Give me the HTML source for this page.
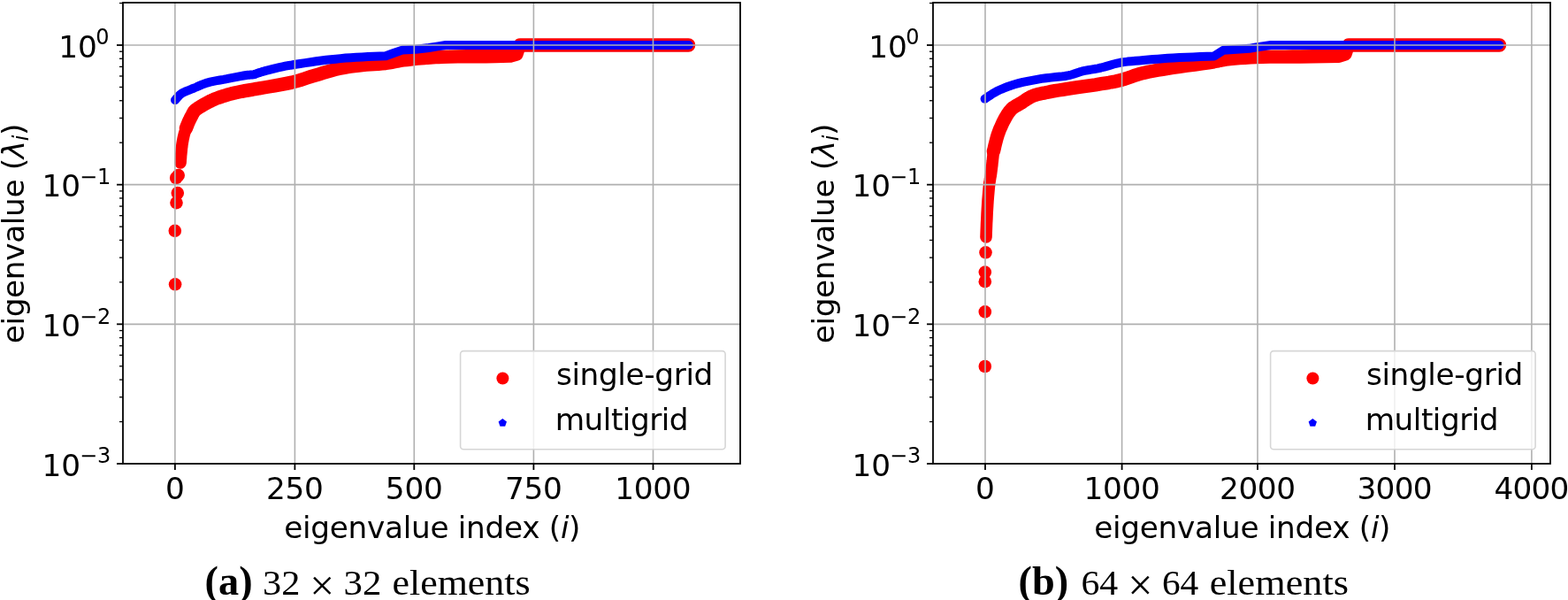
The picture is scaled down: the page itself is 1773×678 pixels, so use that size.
<!DOCTYPE html>
<html><head><meta charset="utf-8"><style>
html,body{margin:0;padding:0;background:#fff;}
svg{display:block;}
.t{font-family:"DejaVu Sans","Liberation Sans",sans-serif;font-size:34.3px;fill:#000;}
.it{font-style:italic;}
.cap{font-family:"Liberation Serif","DejaVu Serif",serif;font-size:40px;fill:#000;}
</style></head><body>
<svg width="1773" height="678" viewBox="0 0 1773 678">
<rect x="0" y="0" width="1773" height="678" fill="#fff"/>
<circle cx="198.1" cy="321.3" r="7.30" fill="#ff0000"/><circle cx="197.8" cy="260.8" r="7.30" fill="#ff0000"/><circle cx="199.5" cy="229.1" r="7.30" fill="#ff0000"/><circle cx="200.8" cy="218.1" r="7.30" fill="#ff0000"/><circle cx="199.2" cy="201.0" r="7.30" fill="#ff0000"/><circle cx="201.7" cy="198.1" r="7.30" fill="#ff0000"/>
<path d="M204.0,184.0 L204.2,182.0 L204.3,180.0 L204.5,178.0 L204.6,176.0 L204.8,174.0 L205.0,172.0 L205.2,170.0 L205.4,167.9 L205.7,165.8 L205.9,163.8 L206.2,161.9 L206.5,160.0 L206.8,158.6 L207.0,157.2 L207.3,155.9 L207.6,154.6 L207.9,153.3 L208.2,152.0 L208.5,150.8 L208.9,149.6 L209.3,148.5 L209.6,147.3 L210.0,146.2 L210.4,145.0" fill="none" stroke="#ff0000" stroke-width="13.6" stroke-linecap="round" stroke-linejoin="round"/>
<path d="M210.4,145.0 L210.8,143.9 L211.2,142.8 L211.7,141.8 L212.1,140.7 L212.5,139.6 L213.0,138.5 L213.5,137.4 L214.0,136.2 L214.6,135.1 L215.1,134.0 L215.7,132.8 L216.3,131.7 L216.9,130.6 L217.5,129.4 L218.1,128.2 L218.7,127.1 L219.4,126.0 L220.3,125.0 L221.5,123.8 L223.0,122.8 L224.6,121.7 L226.2,120.7 L227.8,119.8 L229.3,118.9 L230.5,118.2 L231.6,117.6 L232.6,117.0 L233.7,116.4 L234.8,115.8 L236.0,115.2 L237.3,114.6 L238.6,113.9 L239.9,113.3 L241.2,112.7 L242.7,112.0 L244.3,111.4 L247.0,110.4 L250.0,109.4 L253.2,108.3 L256.5,107.3 L259.8,106.4 L263.1,105.5 L266.4,104.7 L269.9,104.0 L273.4,103.3 L276.8,102.7 L280.1,102.1 L283.0,101.6 L284.8,101.3 L286.4,101.0 L287.9,100.7 L289.5,100.5 L291.2,100.2 L293.2,99.8 L298.1,99.0 L304.0,98.0 L310.6,96.9 L317.4,95.7 L324.0,94.4 L330.0,93.1 L334.7,91.9 L339.2,90.6 L343.5,89.2 L347.8,87.8 L352.1,86.4 L356.5,85.1 L360.9,83.8 L365.3,82.4 L369.8,81.1 L374.2,79.8 L378.6,78.6 L383.1,77.5 L387.5,76.6 L391.9,75.8 L396.4,75.2 L400.8,74.6 L405.3,74.0 L409.7,73.5 L414.2,73.1 L418.7,72.8 L423.2,72.5 L427.7,72.3 L432.0,71.9 L436.2,71.5 L439.7,71.0 L443.0,70.4 L446.2,69.8 L449.4,69.1 L452.7,68.5 L456.1,68.0 L460.0,67.5 L464.0,67.0 L468.0,66.6 L472.1,66.2 L476.1,65.8 L480.0,65.5 L483.3,65.2 L486.4,65.0 L489.4,64.8 L492.6,64.6 L496.1,64.5 L500.0,64.3 L508.1,64.1 L517.6,63.9 L528.0,63.8 L538.8,63.8 L549.6,63.7 L560.0,63.6 L577.0,63.0 L584.0,61.0 L586.0,55.0 L588.0,51.0 L778.6,51.0" fill="none" stroke="#ff0000" stroke-width="15.4" stroke-linecap="round" stroke-linejoin="round"/>
<path d="M198.0,113.1 L199.1,111.9 L200.1,110.7 L201.1,109.5 L202.2,108.3 L203.3,107.2 L204.7,106.1 L206.8,104.8 L209.1,103.7 L211.7,102.6 L214.3,101.6 L216.9,100.5 L219.5,99.5 L221.9,98.5 L224.3,97.4 L226.6,96.4 L229.0,95.4 L231.5,94.5 L234.2,93.6 L237.6,92.7 L241.2,91.9 L245.0,91.2 L248.8,90.5 L252.6,89.9 L256.4,89.2 L260.2,88.4 L264.1,87.7 L268.1,86.9 L271.9,86.1 L275.4,85.5 L278.5,85.0 L280.2,84.8 L281.7,84.7 L283.1,84.6 L284.5,84.5 L285.8,84.4 L287.0,84.2 L287.9,84.0 L288.7,83.7 L289.5,83.4 L290.3,83.1 L291.1,82.8 L292.0,82.5 L293.2,82.1 L294.5,81.7 L295.9,81.3 L297.3,80.8 L298.9,80.4 L300.6,79.9 L303.8,79.1 L307.6,78.1 L311.7,77.1 L315.8,76.2 L319.6,75.4 L322.7,74.7 L324.1,74.4 L325.2,74.2 L326.3,74.1 L327.3,73.9 L328.5,73.7 L330.0,73.5 L334.1,72.8 L339.3,72.0 L345.1,71.1 L351.2,70.2 L357.4,69.3 L363.2,68.5 L368.7,67.8 L374.1,67.2 L379.6,66.7 L385.1,66.1 L390.7,65.6 L396.4,65.2 L402.8,64.8 L409.4,64.4 L416.1,64.1 L422.8,63.8 L429.5,63.5 L436.2,63.2 L445.0,60.0 L454.8,56.6 L470.0,55.8 L485.0,54.0 L495.0,52.4 L504.0,51.0 L778.8,51.0" fill="none" stroke="#0000ff" stroke-width="10.0" stroke-linecap="round" stroke-linejoin="round"/>
<line x1="197.90" y1="3.0" x2="197.90" y2="524.0" stroke="#b0b0b0" stroke-width="1.6"/>
<line x1="333.40" y1="3.0" x2="333.40" y2="524.0" stroke="#b0b0b0" stroke-width="1.6"/>
<line x1="468.30" y1="3.0" x2="468.30" y2="524.0" stroke="#b0b0b0" stroke-width="1.6"/>
<line x1="603.40" y1="3.0" x2="603.40" y2="524.0" stroke="#b0b0b0" stroke-width="1.6"/>
<line x1="738.50" y1="3.0" x2="738.50" y2="524.0" stroke="#b0b0b0" stroke-width="1.6"/>
<line x1="139.0" y1="51.00" x2="837.0" y2="51.00" stroke="#b0b0b0" stroke-width="1.6"/>
<line x1="139.0" y1="208.67" x2="837.0" y2="208.67" stroke="#b0b0b0" stroke-width="1.6"/>
<line x1="139.0" y1="366.33" x2="837.0" y2="366.33" stroke="#b0b0b0" stroke-width="1.6"/>
<rect x="520.6" y="396.6" width="299.5" height="111.1" rx="3.5" ry="3.5" fill="#fff" fill-opacity="0.8" stroke="#d6d6d6" stroke-width="1.6"/>
<circle cx="568.4" cy="427.5" r="7.0" fill="#ff0000"/>
<polygon points="568.30,473.00 572.96,476.39 571.18,481.86 565.42,481.86 563.64,476.39" fill="#0000ff"/>
<text x="628.9" y="434.6" class="t" textLength="177.5">single-grid</text>
<text x="627.7" y="485.7" class="t" textLength="150.9">multigrid</text>
<rect x="139.0" y="3.0" width="698.0" height="521.0" fill="none" stroke="#000" stroke-width="1.8"/>
<line x1="132.0" y1="51.00" x2="139.0" y2="51.00" stroke="#000" stroke-width="1.8"/>
<line x1="135.0" y1="3.54" x2="139.0" y2="3.54" stroke="#000" stroke-width="1.3"/>
<line x1="132.0" y1="208.67" x2="139.0" y2="208.67" stroke="#000" stroke-width="1.8"/>
<line x1="135.0" y1="161.20" x2="139.0" y2="161.20" stroke="#000" stroke-width="1.3"/>
<line x1="135.0" y1="133.44" x2="139.0" y2="133.44" stroke="#000" stroke-width="1.3"/>
<line x1="135.0" y1="113.74" x2="139.0" y2="113.74" stroke="#000" stroke-width="1.3"/>
<line x1="135.0" y1="98.46" x2="139.0" y2="98.46" stroke="#000" stroke-width="1.3"/>
<line x1="135.0" y1="85.98" x2="139.0" y2="85.98" stroke="#000" stroke-width="1.3"/>
<line x1="135.0" y1="75.42" x2="139.0" y2="75.42" stroke="#000" stroke-width="1.3"/>
<line x1="135.0" y1="66.28" x2="139.0" y2="66.28" stroke="#000" stroke-width="1.3"/>
<line x1="135.0" y1="58.21" x2="139.0" y2="58.21" stroke="#000" stroke-width="1.3"/>
<line x1="132.0" y1="366.33" x2="139.0" y2="366.33" stroke="#000" stroke-width="1.8"/>
<line x1="135.0" y1="318.87" x2="139.0" y2="318.87" stroke="#000" stroke-width="1.3"/>
<line x1="135.0" y1="291.11" x2="139.0" y2="291.11" stroke="#000" stroke-width="1.3"/>
<line x1="135.0" y1="271.41" x2="139.0" y2="271.41" stroke="#000" stroke-width="1.3"/>
<line x1="135.0" y1="256.13" x2="139.0" y2="256.13" stroke="#000" stroke-width="1.3"/>
<line x1="135.0" y1="243.64" x2="139.0" y2="243.64" stroke="#000" stroke-width="1.3"/>
<line x1="135.0" y1="233.09" x2="139.0" y2="233.09" stroke="#000" stroke-width="1.3"/>
<line x1="135.0" y1="223.95" x2="139.0" y2="223.95" stroke="#000" stroke-width="1.3"/>
<line x1="135.0" y1="215.88" x2="139.0" y2="215.88" stroke="#000" stroke-width="1.3"/>
<line x1="132.0" y1="524.00" x2="139.0" y2="524.00" stroke="#000" stroke-width="1.8"/>
<line x1="135.0" y1="476.54" x2="139.0" y2="476.54" stroke="#000" stroke-width="1.3"/>
<line x1="135.0" y1="448.77" x2="139.0" y2="448.77" stroke="#000" stroke-width="1.3"/>
<line x1="135.0" y1="429.08" x2="139.0" y2="429.08" stroke="#000" stroke-width="1.3"/>
<line x1="135.0" y1="413.80" x2="139.0" y2="413.80" stroke="#000" stroke-width="1.3"/>
<line x1="135.0" y1="401.31" x2="139.0" y2="401.31" stroke="#000" stroke-width="1.3"/>
<line x1="135.0" y1="390.76" x2="139.0" y2="390.76" stroke="#000" stroke-width="1.3"/>
<line x1="135.0" y1="381.61" x2="139.0" y2="381.61" stroke="#000" stroke-width="1.3"/>
<line x1="135.0" y1="373.55" x2="139.0" y2="373.55" stroke="#000" stroke-width="1.3"/>
<line x1="197.90" y1="524.0" x2="197.90" y2="531.0" stroke="#000" stroke-width="1.8"/>
<text x="197.90" y="563.8" text-anchor="middle" class="t">0</text>
<line x1="333.40" y1="524.0" x2="333.40" y2="531.0" stroke="#000" stroke-width="1.8"/>
<text x="333.40" y="563.8" text-anchor="middle" class="t" textLength="64.97">250</text>
<line x1="468.30" y1="524.0" x2="468.30" y2="531.0" stroke="#000" stroke-width="1.8"/>
<text x="468.30" y="563.8" text-anchor="middle" class="t" textLength="64.97">500</text>
<line x1="603.40" y1="524.0" x2="603.40" y2="531.0" stroke="#000" stroke-width="1.8"/>
<text x="603.40" y="563.8" text-anchor="middle" class="t" textLength="64.97">750</text>
<line x1="738.50" y1="524.0" x2="738.50" y2="531.0" stroke="#000" stroke-width="1.8"/>
<text x="738.50" y="563.8" text-anchor="middle" class="t" textLength="86.39">1000</text>
<text x="66.2" y="64.7" class="t">10</text><text x="108.2" y="50.2" class="t" style="font-size:24.01px">0</text>
<text x="47.5" y="222.4" class="t">10</text><text x="89.9" y="207.9" class="t" style="font-size:24.01px">−1</text>
<text x="47.5" y="380.0" class="t">10</text><text x="89.9" y="365.5" class="t" style="font-size:24.01px">−2</text>
<text x="47.5" y="537.7" class="t">10</text><text x="89.9" y="523.2" class="t" style="font-size:24.01px">−3</text>
<text x="321.3" y="607.6" class="t" textLength="335.2">eigenvalue index (<tspan class="it">i</tspan>)</text>
<text transform="translate(26.7,388.3) rotate(-90)" x="0" y="0" class="t" textLength="248.8">eigenvalue (<tspan class="it">λ</tspan><tspan class="it" font-size="24.01" dy="5">i</tspan><tspan dy="-5">)</tspan></text>
<circle cx="1114.5" cy="285.3" r="7.30" fill="#ff0000"/><circle cx="1113.8" cy="307.6" r="7.30" fill="#ff0000"/><circle cx="1113.8" cy="318.2" r="7.30" fill="#ff0000"/><circle cx="1113.8" cy="352.4" r="7.30" fill="#ff0000"/><circle cx="1113.8" cy="414.0" r="7.30" fill="#ff0000"/>
<path d="M1115.0,268.0 L1115.2,262.7 L1115.4,257.4 L1115.6,252.1 L1115.9,246.8 L1116.1,241.5 L1116.4,236.4 L1116.7,231.6 L1117.0,226.6 L1117.4,221.8 L1117.8,217.1 L1118.2,212.7 L1118.6,208.7 L1118.9,206.3 L1119.3,204.1 L1119.6,202.1 L1119.9,200.1 L1120.3,198.1 L1120.6,196.0 L1120.9,193.7 L1121.2,191.3 L1121.5,188.9 L1121.8,186.6 L1122.0,184.2 L1122.3,182.0 L1122.5,180.1 L1122.7,178.2 L1122.9,176.4 L1123.0,174.6 L1123.2,172.8 L1123.4,171.0" fill="none" stroke="#ff0000" stroke-width="13.6" stroke-linecap="round" stroke-linejoin="round"/>
<path d="M1123.4,171.0 L1124.2,167.9 L1124.9,164.7 L1125.7,161.5 L1126.5,158.4 L1127.3,155.3 L1128.3,152.2 L1129.4,149.2 L1130.5,146.2 L1131.8,143.3 L1133.1,140.4 L1134.4,137.6 L1135.8,135.0 L1137.0,132.8 L1138.2,130.7 L1139.4,128.7 L1140.8,126.8 L1142.2,125.0 L1143.7,123.3 L1145.3,121.9 L1147.0,120.7 L1148.8,119.6 L1150.7,118.6 L1152.6,117.5 L1154.5,116.4 L1156.7,115.0 L1158.9,113.5 L1161.1,112.1 L1163.5,110.6 L1165.8,109.3 L1168.3,108.2 L1170.9,107.3 L1173.5,106.5 L1176.2,105.9 L1179.0,105.3 L1181.9,104.8 L1184.9,104.2 L1188.8,103.4 L1192.8,102.7 L1197.0,102.0 L1201.3,101.3 L1205.8,100.6 L1210.5,99.9 L1216.9,98.9 L1224.0,97.9 L1231.4,96.8 L1238.6,95.8 L1245.3,94.7 L1251.0,93.8 L1254.0,93.3 L1256.6,92.8 L1259.0,92.4 L1261.3,91.9 L1263.8,91.4 L1266.5,90.7 L1270.5,89.6 L1274.7,88.2 L1279.2,86.7 L1283.7,85.1 L1288.4,83.7 L1293.1,82.4 L1298.3,81.2 L1303.7,80.2 L1309.1,79.2 L1314.7,78.3 L1320.4,77.4 L1326.3,76.5 L1333.9,75.3 L1342.2,74.2 L1350.8,73.0 L1359.0,71.8 L1366.5,70.8 L1372.7,69.8 L1375.3,69.3 L1377.5,68.9 L1379.5,68.4 L1381.4,68.0 L1383.5,67.6 L1386.0,67.2 L1390.7,66.6 L1395.9,66.1 L1401.6,65.6 L1407.6,65.2 L1413.8,64.8 L1420.0,64.5 L1427.8,64.2 L1436.0,64.1 L1444.4,64.1 L1453.0,64.1 L1461.6,64.0 L1470.0,64.0 L1514.0,63.3 L1521.0,61.0 L1523.0,55.0 L1525.0,51.0 L1695.5,51.0" fill="none" stroke="#ff0000" stroke-width="15.4" stroke-linecap="round" stroke-linejoin="round"/>
<path d="M1113.6,111.7 L1115.6,110.4 L1117.6,109.0 L1119.6,107.7 L1121.6,106.4 L1123.7,105.1 L1126.0,103.8 L1129.0,102.3 L1132.3,100.8 L1135.7,99.4 L1139.2,98.0 L1142.9,96.7 L1146.7,95.5 L1151.5,94.2 L1156.5,92.9 L1161.7,91.8 L1167.0,90.8 L1172.4,89.8 L1177.6,88.9 L1182.9,88.2 L1188.4,87.6 L1193.8,87.1 L1199.1,86.6 L1204.1,86.0 L1208.6,85.2 L1211.3,84.5 L1213.7,83.8 L1216.0,83.0 L1218.2,82.2 L1220.6,81.4 L1223.1,80.7 L1226.5,79.9 L1230.1,79.3 L1233.8,78.6 L1237.6,78.0 L1241.3,77.3 L1245.0,76.5 L1248.6,75.6 L1252.1,74.6 L1255.6,73.6 L1259.2,72.5 L1262.8,71.6 L1266.5,70.8 L1270.7,70.1 L1275.0,69.6 L1279.4,69.2 L1283.9,68.8 L1288.5,68.5 L1293.1,68.1 L1298.4,67.6 L1303.7,67.1 L1309.1,66.7 L1314.7,66.2 L1320.4,65.8 L1326.3,65.4 L1333.6,65.0 L1341.2,64.7 L1349.0,64.4 L1356.9,64.1 L1364.9,63.8 L1372.7,63.5 L1383.4,56.8 L1412.6,54.8 L1420.0,53.5 L1437.0,51.0 L1695.4,51.0" fill="none" stroke="#0000ff" stroke-width="10.0" stroke-linecap="round" stroke-linejoin="round"/>
<line x1="1114.00" y1="3.0" x2="1114.00" y2="524.0" stroke="#b0b0b0" stroke-width="1.6"/>
<line x1="1268.60" y1="3.0" x2="1268.60" y2="524.0" stroke="#b0b0b0" stroke-width="1.6"/>
<line x1="1422.00" y1="3.0" x2="1422.00" y2="524.0" stroke="#b0b0b0" stroke-width="1.6"/>
<line x1="1577.00" y1="3.0" x2="1577.00" y2="524.0" stroke="#b0b0b0" stroke-width="1.6"/>
<line x1="1731.90" y1="3.0" x2="1731.90" y2="524.0" stroke="#b0b0b0" stroke-width="1.6"/>
<line x1="1055.0" y1="51.00" x2="1753.0" y2="51.00" stroke="#b0b0b0" stroke-width="1.6"/>
<line x1="1055.0" y1="208.67" x2="1753.0" y2="208.67" stroke="#b0b0b0" stroke-width="1.6"/>
<line x1="1055.0" y1="366.33" x2="1753.0" y2="366.33" stroke="#b0b0b0" stroke-width="1.6"/>
<rect x="1436.6" y="396.6" width="299.5" height="111.1" rx="3.5" ry="3.5" fill="#fff" fill-opacity="0.8" stroke="#d6d6d6" stroke-width="1.6"/>
<circle cx="1484.4" cy="427.5" r="7.0" fill="#ff0000"/>
<polygon points="1484.30,473.00 1488.96,476.39 1487.18,481.86 1481.42,481.86 1479.64,476.39" fill="#0000ff"/>
<text x="1544.9" y="434.6" class="t" textLength="177.5">single-grid</text>
<text x="1543.7" y="485.7" class="t" textLength="150.9">multigrid</text>
<rect x="1055.0" y="3.0" width="698.0" height="521.0" fill="none" stroke="#000" stroke-width="1.8"/>
<line x1="1048.0" y1="51.00" x2="1055.0" y2="51.00" stroke="#000" stroke-width="1.8"/>
<line x1="1051.0" y1="3.54" x2="1055.0" y2="3.54" stroke="#000" stroke-width="1.3"/>
<line x1="1048.0" y1="208.67" x2="1055.0" y2="208.67" stroke="#000" stroke-width="1.8"/>
<line x1="1051.0" y1="161.20" x2="1055.0" y2="161.20" stroke="#000" stroke-width="1.3"/>
<line x1="1051.0" y1="133.44" x2="1055.0" y2="133.44" stroke="#000" stroke-width="1.3"/>
<line x1="1051.0" y1="113.74" x2="1055.0" y2="113.74" stroke="#000" stroke-width="1.3"/>
<line x1="1051.0" y1="98.46" x2="1055.0" y2="98.46" stroke="#000" stroke-width="1.3"/>
<line x1="1051.0" y1="85.98" x2="1055.0" y2="85.98" stroke="#000" stroke-width="1.3"/>
<line x1="1051.0" y1="75.42" x2="1055.0" y2="75.42" stroke="#000" stroke-width="1.3"/>
<line x1="1051.0" y1="66.28" x2="1055.0" y2="66.28" stroke="#000" stroke-width="1.3"/>
<line x1="1051.0" y1="58.21" x2="1055.0" y2="58.21" stroke="#000" stroke-width="1.3"/>
<line x1="1048.0" y1="366.33" x2="1055.0" y2="366.33" stroke="#000" stroke-width="1.8"/>
<line x1="1051.0" y1="318.87" x2="1055.0" y2="318.87" stroke="#000" stroke-width="1.3"/>
<line x1="1051.0" y1="291.11" x2="1055.0" y2="291.11" stroke="#000" stroke-width="1.3"/>
<line x1="1051.0" y1="271.41" x2="1055.0" y2="271.41" stroke="#000" stroke-width="1.3"/>
<line x1="1051.0" y1="256.13" x2="1055.0" y2="256.13" stroke="#000" stroke-width="1.3"/>
<line x1="1051.0" y1="243.64" x2="1055.0" y2="243.64" stroke="#000" stroke-width="1.3"/>
<line x1="1051.0" y1="233.09" x2="1055.0" y2="233.09" stroke="#000" stroke-width="1.3"/>
<line x1="1051.0" y1="223.95" x2="1055.0" y2="223.95" stroke="#000" stroke-width="1.3"/>
<line x1="1051.0" y1="215.88" x2="1055.0" y2="215.88" stroke="#000" stroke-width="1.3"/>
<line x1="1048.0" y1="524.00" x2="1055.0" y2="524.00" stroke="#000" stroke-width="1.8"/>
<line x1="1051.0" y1="476.54" x2="1055.0" y2="476.54" stroke="#000" stroke-width="1.3"/>
<line x1="1051.0" y1="448.77" x2="1055.0" y2="448.77" stroke="#000" stroke-width="1.3"/>
<line x1="1051.0" y1="429.08" x2="1055.0" y2="429.08" stroke="#000" stroke-width="1.3"/>
<line x1="1051.0" y1="413.80" x2="1055.0" y2="413.80" stroke="#000" stroke-width="1.3"/>
<line x1="1051.0" y1="401.31" x2="1055.0" y2="401.31" stroke="#000" stroke-width="1.3"/>
<line x1="1051.0" y1="390.76" x2="1055.0" y2="390.76" stroke="#000" stroke-width="1.3"/>
<line x1="1051.0" y1="381.61" x2="1055.0" y2="381.61" stroke="#000" stroke-width="1.3"/>
<line x1="1051.0" y1="373.55" x2="1055.0" y2="373.55" stroke="#000" stroke-width="1.3"/>
<line x1="1114.00" y1="524.0" x2="1114.00" y2="531.0" stroke="#000" stroke-width="1.8"/>
<text x="1114.00" y="563.8" text-anchor="middle" class="t">0</text>
<line x1="1268.60" y1="524.0" x2="1268.60" y2="531.0" stroke="#000" stroke-width="1.8"/>
<text x="1268.60" y="563.8" text-anchor="middle" class="t" textLength="86.39">1000</text>
<line x1="1422.00" y1="524.0" x2="1422.00" y2="531.0" stroke="#000" stroke-width="1.8"/>
<text x="1422.00" y="563.8" text-anchor="middle" class="t" textLength="85.99">2000</text>
<line x1="1577.00" y1="524.0" x2="1577.00" y2="531.0" stroke="#000" stroke-width="1.8"/>
<text x="1577.00" y="563.8" text-anchor="middle" class="t" textLength="85.19">3000</text>
<line x1="1731.90" y1="524.0" x2="1731.90" y2="531.0" stroke="#000" stroke-width="1.8"/>
<text x="1731.90" y="563.8" text-anchor="middle" class="t" textLength="84.79">4000</text>
<text x="982.2" y="64.7" class="t">10</text><text x="1024.2" y="50.2" class="t" style="font-size:24.01px">0</text>
<text x="963.5" y="222.4" class="t">10</text><text x="1005.9" y="207.9" class="t" style="font-size:24.01px">−1</text>
<text x="963.5" y="380.0" class="t">10</text><text x="1005.9" y="365.5" class="t" style="font-size:24.01px">−2</text>
<text x="963.5" y="537.7" class="t">10</text><text x="1005.9" y="523.2" class="t" style="font-size:24.01px">−3</text>
<text x="1237.3" y="607.6" class="t" textLength="335.2">eigenvalue index (<tspan class="it">i</tspan>)</text>
<text transform="translate(942.7,388.3) rotate(-90)" x="0" y="0" class="t" textLength="248.8">eigenvalue (<tspan class="it">λ</tspan><tspan class="it" font-size="24.01" dy="5">i</tspan><tspan dy="-5">)</tspan></text>
<text x="231.6" y="672.3" class="cap" style="font-size:47px" font-weight="bold" textLength="54.0" lengthAdjust="spacingAndGlyphs">(a)</text>
<text x="297.0" y="672.3" class="cap" style="font-size:41px" textLength="42.3" lengthAdjust="spacingAndGlyphs">32</text>
<text x="350.2" y="677.8" class="cap" style="font-size:49.5px">×</text>
<text x="388.5" y="672.3" class="cap" style="font-size:41px" textLength="42.8" lengthAdjust="spacingAndGlyphs">32</text>
<text x="443.4" y="672.3" class="cap" style="font-size:40px" textLength="156.3" lengthAdjust="spacingAndGlyphs">elements</text>
<text x="1151.5" y="672.3" class="cap" style="font-size:47px" font-weight="bold" textLength="56.6" lengthAdjust="spacingAndGlyphs">(b)</text>
<text x="1222.4" y="672.3" class="cap" style="font-size:41px" textLength="41.8" lengthAdjust="spacingAndGlyphs">64</text>
<text x="1275.2" y="677.8" class="cap" style="font-size:50px">×</text>
<text x="1313.9" y="672.3" class="cap" style="font-size:41px" textLength="41.4" lengthAdjust="spacingAndGlyphs">64</text>
<text x="1367.7" y="672.3" class="cap" style="font-size:40px" textLength="157.2" lengthAdjust="spacingAndGlyphs">elements</text>
</svg></body></html>
